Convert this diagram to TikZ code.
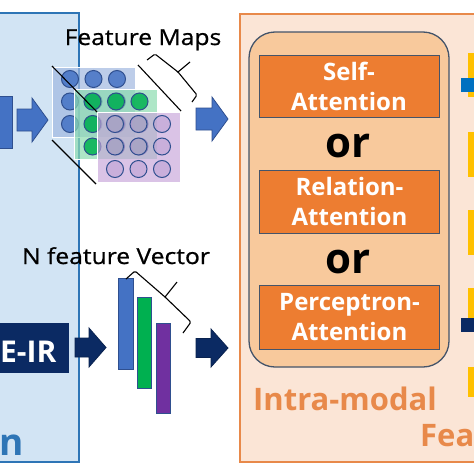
\documentclass[tikz,border=0pt]{standalone}
\usepackage{fontspec}
\setmainfont{Open Sans}
\newfontfamily\widefont[FakeStretch=1.12,FakeBold=0.8]{Open Sans}
\definecolor{lblue}{HTML}{D2E4F4}
\definecolor{pblue}{HTML}{2E75B6}
\definecolor{mblue}{HTML}{4472C4}
\definecolor{dblue}{HTML}{2F4F8F}
\definecolor{navy}{HTML}{0B2A63}
\definecolor{peach}{HTML}{FBE5D6}
\definecolor{porange}{HTML}{E8894A}
\definecolor{lorange}{HTML}{F8C99C}
\definecolor{borange}{HTML}{ED7D31}
\definecolor{slate}{HTML}{44546A}
\definecolor{mgreen}{HTML}{00B050}
\definecolor{mpurple}{HTML}{7030A0}
\definecolor{lpurple}{HTML}{C7A3DA}
\definecolor{ygold}{HTML}{FFC000}
\definecolor{cblue}{HTML}{0070C0}
\begin{document}
\begin{tikzpicture}[x=1pt,y=-1pt,
  regtext/.style={font=\widefont\fontsize{22}{26}\selectfont, inner sep=0pt, anchor=base},
  attbox/.style={draw=slate, line width=1pt, fill=borange, text=white,
    minimum width=180pt, minimum height=62pt, align=center, inner sep=0pt,
    font=\bfseries\fontsize{24}{30}\selectfont},
  ortext/.style={font=\bfseries\fontsize{42}{42}\selectfont, inner sep=0pt, anchor=base},
  fmrect/.style={fill opacity=0.7},
  fmcirc/.style={draw=dblue, line width=1pt, fill opacity=0.85},
  bararrowB/.style={fill=mblue, draw=dblue, line width=0.8pt},
  bararrowN/.style={fill=navy, draw=navy!80!black, line width=0.8pt},
  vbar/.style={draw=dblue, line width=0.9pt},
  bracepath/.style={draw=black, line width=1.1pt, rounded corners=1.5pt}
]
\useasboundingbox (0,0) rectangle (474,474);
\fill[white] (0,0) rectangle (474,474);

% ---------- left panel
\draw[fill=lblue, draw=pblue, line width=1.3pt] (-5,13) rectangle (79,462);
\node[anchor=base east, inner sep=0pt, text=pblue, font=\bfseries\fontsize{37}{37}\selectfont] (ntext) at (24,455) {n};

% ---------- right panel
\draw[fill=peach, draw=porange, line width=1.3pt] (240,14) rectangle (480,462);
\draw[fill=lorange, draw=slate, line width=1.3pt, rounded corners=26pt] (249,32) rectangle (449,367);

\node[attbox] (sa) at (349,86) {Self-\\Attention};
\node[attbox, minimum height=63pt] (ra) at (349.5,201.5) {Relation-\\Attention};
\node[attbox, minimum height=64pt] (pa) at (349.5,317) {Perceptron-\\Attention};
\node[ortext] (or1) at (348,157) {or};
\node[ortext] (or2) at (348,273) {or};

\node[anchor=base west, inner sep=0pt, text=porange, font=\bfseries\fontsize{31}{31}\selectfont] (intra) at (253,410) {Intra-modal};
\node[anchor=base west, inner sep=0pt, text=porange, font=\bfseries\fontsize{31}{31}\selectfont] (fea) at (420,446) {Fea};

% right edge pieces
\foreach \ya/\yb in {53/97, 132/177, 210/255, 288/332, 367/397}
  \fill[ygold] (468,\ya) rectangle (476,\yb);
\fill[cblue] (461,78) rectangle (476,92);
\fill[navy] (461,318) rectangle (476,332);

% ---------- top-left block and arrows
\filldraw[fill=mblue, draw=dblue, line width=0.8pt] (-3,96) rectangle (12,148);
\filldraw[bararrowB] (17,109) -- (32,109) -- (32,98) -- (48,120) -- (32,142) -- (32,131) -- (17,131) -- cycle;
\filldraw[bararrowB] (196,108) -- (212,108) -- (212,97) -- (228,119) -- (212,141) -- (212,130) -- (196,130) -- cycle;

% ---------- feature maps
% blue layer
\fill[mblue!50!white, fmrect] (52,67) rectangle (135,137);
\draw[white, line width=0.8pt] (52,67) rectangle (135,137);
\foreach \i in {0,1,2} \foreach \j in {0,1,2}
  \filldraw[fmcirc, fill=mblue] (70+23.5*\i, 79+22.5*\j) circle (8.5);
% green layer
\fill[mgreen!45!white, fmrect] (74.5,89.5) rectangle (157.5,159.5);
\draw[white, line width=0.8pt] (74.5,89.5) rectangle (157.5,159.5);
\foreach \i in {0,1,2} \foreach \j in {0,1,2}
  \filldraw[fmcirc, fill=mgreen] (92.5+23.5*\i, 101.5+22.5*\j) circle (8.5);
% purple layer
\fill[lpurple, fill opacity=0.65] (97,112) rectangle (180,182);
\draw[white, line width=0.8pt] (97,112) rectangle (180,182);
\foreach \i in {0,1,2} \foreach \j in {0,1,2}
  \filldraw[fmcirc, fill=mpurple!45!white, fill opacity=0.6] (115+23.5*\i, 124+22.5*\j) circle (8.5);
% perspective lines
\draw[black, line width=1.1pt] (52,66) -- (97,112);
\draw[black, line width=1.1pt] (52,140) -- (96,184);
\draw[black, line width=1.1pt] (138,65) -- (181,111);

% brace + label
\draw[bracepath] (147,60) -- (155,54) -- (178,72) -- (197,95) -- (192,102);
\draw[bracepath] (178,72) -- (190,62);
\node[regtext] (fmlabel) at (143,45) {Feature Maps};

% ---------- bottom row
\node[fill=navy, minimum width=75pt, minimum height=50pt, inner sep=0pt] (eir) at (31.5,348) {};
\node[anchor=base west, inner sep=0pt, text=white, font=\bfseries\fontsize{30}{30}\selectfont] (eirtext) at (0,362) {E-IR};
\filldraw[bararrowN] (75,338) -- (89,338) -- (89,328) -- (106,347.5) -- (89,367) -- (89,357) -- (75,357) -- cycle;
\filldraw[bararrowN] (196,338.5) -- (211,338.5) -- (211,329) -- (228,348) -- (211,367) -- (211,357.5) -- (196,357.5) -- cycle;

\filldraw[vbar, fill=mblue] (118,278) rectangle (133,369);
\filldraw[vbar, fill=mgreen] (137,297) rectangle (151,388);
\filldraw[vbar, fill=mpurple] (156,323) rectangle (170,413);

\draw[bracepath] (126,279) -- (135,271) -- (165,297) -- (191,322) -- (183,333);
\draw[bracepath] (165,297) -- (177,282);
\node[regtext] (nfv) at (116,264) {N feature Vector};
\end{tikzpicture}
\end{document}
